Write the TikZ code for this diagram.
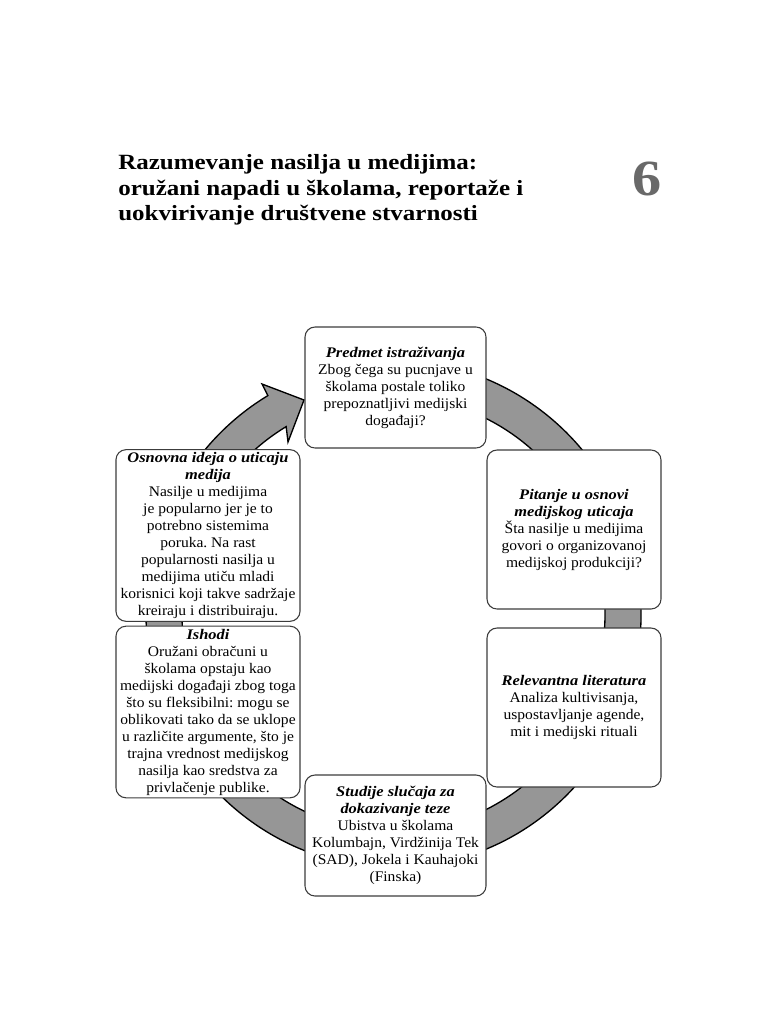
\documentclass[tikz,border=0pt]{standalone}
\usepackage{fontspec}
\setmainfont{Liberation Serif}[FakeStretch=1.06]
\newfontfamily\headfont{Liberation Serif}[FakeStretch=1.12]
\newfontfamily\titlefont{Liberation Serif}[FakeStretch=1.15]
\definecolor{ringgray}{RGB}{150,150,150}
\definecolor{boxline}{RGB}{60,60,60}
\definecolor{numgray}{RGB}{105,105,105}
\newcommand\boxhead[1]{{\headfont\bfseries\itshape #1}}
\frenchspacing
\begin{document}
\begin{tikzpicture}[x=0.75pt,y=-0.75pt,
  box/.style={draw=boxline, line width=0.8pt, fill=white, rounded corners=7.5pt,
    align=center, inner sep=2pt, text=black, font=\fontsize{11}{12.75}\selectfont\frenchspacing},
  ring/.style={draw=black, line width=1pt, fill=ringgray, line join=miter}]
\fill[white] (0,0) rectangle (768,1024);
\useasboundingbox (0,0) rectangle (768,1024);

% title
\node[anchor=north west, inner sep=0pt, align=left,
  font=\titlefont\fontsize{16.3}{19.3}\selectfont\bfseries] (title) at (118,154)
  {Razumevanje nasilja u medijima:\\oružani napadi u školama, reportaže i\\uokvirivanje društvene stvarnosti};
\node[anchor=base east, inner sep=0pt, text=numgray,
  font=\titlefont\fontsize{38}{40}\selectfont\bfseries] (num) at (662,195) {6};

% ring with arrow
\coordinate (tipA) at (262,384);
\coordinate (tip) at (304,400);
\coordinate (tipB) at (288,442);
\draw[ring] ([shift={(393.5,614)}]-100:247.5 and 253.5)
  arc[start angle=-100, end angle=239.5, x radius=247.5, y radius=253.5]
  -- (tipA) -- (tip) -- (tipB)
  -- ([shift={(393.5,614)}]239.5:211.5 and 217.5)
  arc[start angle=239.5, end angle=-100, x radius=211.5, y radius=217.5]
  -- cycle;

% boxes
\node[box, minimum width=135.75pt, minimum height=90.75pt] (predmet) at (395.5,387.5)
  {\boxhead{Predmet istraživanja}\\Zbog čega su pucnjave u\\školama postale toliko\\prepoznatljivi medijski\\događaji?};
\node[box, minimum width=130.5pt, minimum height=119.25pt] (pitanje) at (574,529.5)
  {\boxhead{Pitanje u osnovi}\\\boxhead{medijskog uticaja}\\Šta nasilje u medijima\\govori o organizovanoj\\medijskoj produkciji?};
\node[box, minimum width=138pt, minimum height=128.25pt] (osnovna) at (208,535.5)
  {\boxhead{Osnovna ideja o uticaju}\\\boxhead{medija}\\Nasilje u medijima\\je popularno jer je to\\potrebno sistemima\\poruka. Na rast\\popularnosti nasilja u\\medijima utiču mladi\\korisnici koji takve sadržaje\\kreiraju i distribuiraju.};
\node[box, minimum width=138pt, minimum height=126pt] (ishodi) at (208,712)
  {\boxhead{Ishodi}\\Oružani obračuni u\\školama opstaju kao\\medijski događaji zbog toga\\što su fleksibilni: mogu se\\oblikovati tako da se uklope\\u različite argumente, što je\\trajna vrednost medijskog\\nasilja kao sredstva za\\privlačenje publike.};
\node[box, minimum width=130.5pt, minimum height=119.25pt] (relevantna) at (574,707.5)
  {\boxhead{Relevantna literatura}\\Analiza kultivisanja,\\uspostavljanje agende,\\mit i medijski rituali};
\node[box, minimum width=135.75pt, minimum height=90.75pt] (studije) at (395.5,835.5)
  {\boxhead{Studije slučaja za}\\\boxhead{dokazivanje teze}\\Ubistva u školama\\Kolumbajn, Virdžinija Tek\\(SAD), Jokela i Kauhajoki\\(Finska)};
\end{tikzpicture}
\end{document}
